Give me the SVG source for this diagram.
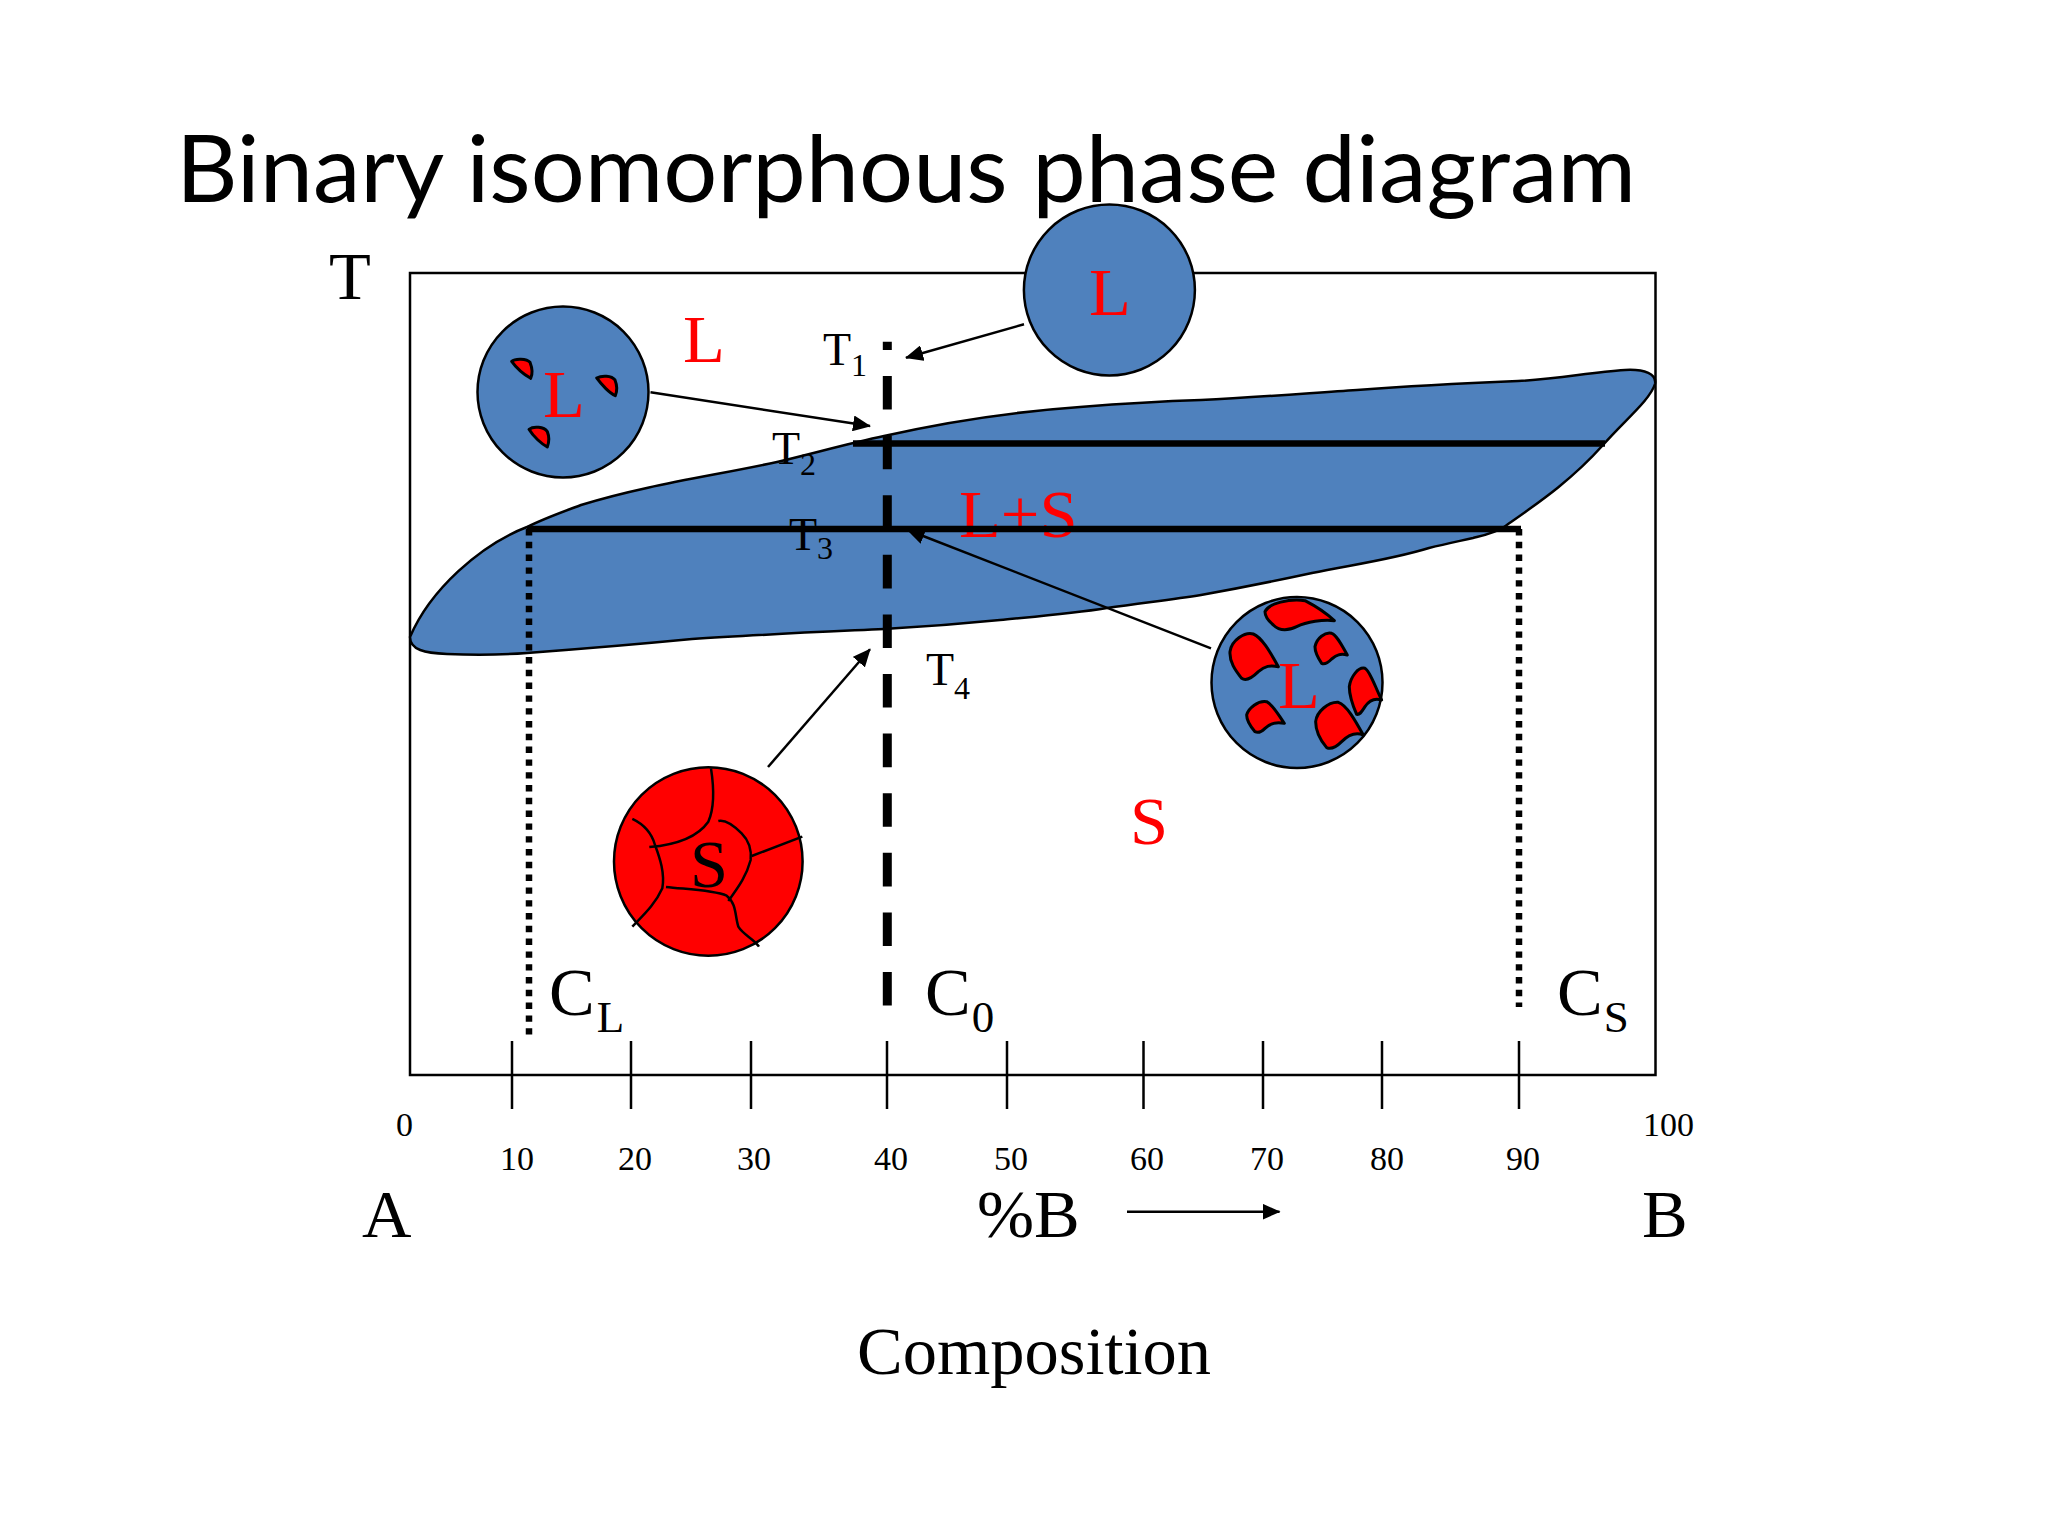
<svg xmlns="http://www.w3.org/2000/svg" width="2048" height="1536" viewBox="0 0 2048 1536">
<defs>
<marker id="arrow" markerUnits="userSpaceOnUse" markerWidth="18" markerHeight="16" refX="17" refY="8" orient="auto"><path d="M0 0L18 8L0 16Z" fill="#000"/></marker>
<style>
text{font-family:"Liberation Serif","Times New Roman",serif;fill:#000}
.big{font-size:68.500px}
.mid{font-size:46px}
.low{font-size:45px}
.sub{font-size:32px}
.tick{font-size:34px}
.red{fill:#f00}
.blue{fill:#4f81bd;stroke:#000;stroke-width:2.5}
.drop{fill:#f00;stroke:#000;stroke-width:9;stroke-linejoin:round}
.grain{fill:none;stroke:#000;stroke-width:7.500}
.axis{fill:none;stroke:#000;stroke-width:2.5}
.arr{stroke:#000;stroke-width:2.5;fill:none;marker-end:url(#arrow)}
.thick{stroke:#000;stroke-width:6.5}
.dot{stroke:#000;stroke-width:6.5;stroke-dasharray:6.4 6.4}
</style>
</defs>
<rect width="2048" height="1536" fill="#fff"/>
<text id="title" x="176" y="202" font-size="93" textLength="1460" lengthAdjust="spacingAndGlyphs" style="font-family:Lato,'Open Sans',sans-serif">Binary isomorphous phase diagram</text>
<g id="frame">
<path class="axis" d="M410 1075V273H1655.500V1075Z"/>
<path class="axis" d="M512 1041V1109M631 1041V1109M751 1041V1109M887 1041V1109M1007 1041V1109M1143.500 1041V1109M1263 1041V1109M1382 1041V1109M1519 1041V1109"/>
</g>
<g id="two-phase-region">
<path class="blue" d="M410 637C430 590 480 545 527 527C545 518 565 511 581 505C646 485 712 476 777 462C815 453 850 443 884 436C950 421 1010 412 1080 407C1130 403 1170 401 1201 400C1260 397 1310 393 1357 390C1410 386 1470 383 1518 381C1560 379 1590 372 1625 370C1645 369 1657 374 1655 384C1650 400 1625 420 1603 445C1570 482 1535 505 1504 527C1495 533 1485 535 1473 538C1455 542 1445 544 1429 548C1390 560 1350 565 1312 573C1275 581 1240 588 1201 595C1170 600 1140 603 1107 608C1070 614 1030 617 1000 620C960 624 920 627 884 629C820 632 750 635 692 639C640 644 580 649 527 653C500 655 470 655 447 654C425 653 410 650 410 637Z"/>
<text class="big red" x="959" y="537">L+S</text>
</g>
<g id="connectors">
<line class="thick" x1="853" y1="443.500" x2="1605" y2="443.500"/>
<line class="thick" x1="527" y1="529" x2="1521" y2="529"/>
<line x1="887.300" y1="341.700" x2="887.300" y2="1006.700" stroke="#000" stroke-width="9" stroke-dasharray="33.600 26" stroke-dashoffset="25.300"/>
<line class="dot" x1="529" y1="529" x2="529" y2="1035"/>
<line class="dot" x1="1519" y1="529" x2="1519" y2="1007"/>
<line class="arr" x1="1024" y1="324.300" x2="906" y2="357.700"/>
<line class="arr" x1="650.500" y1="392.300" x2="870" y2="426"/>
<line class="arr" x1="1211" y1="648.300" x2="907.700" y2="530"/>
<line class="arr" x1="768" y1="767" x2="870" y2="649.300"/>
<line class="arr" x1="1127" y1="1211.700" x2="1279.500" y2="1211.700"/>
</g>
<g id="circle-liquid">
<circle class="blue" cx="1109.400" cy="290" r="85.500"/>
<text class="big red" x="1089" y="315">L</text>
</g>
<g id="circle-few-solid">
<circle class="blue" cx="563" cy="392" r="85.500"/>
<g transform="translate(470 300) scale(.3333)">
<path class="drop" d="M125 184C135 175 170 175 180 187C187 205 187 225 182 235C165 225 140 205 125 184Z"/>
<path class="drop" d="M380 234C395 226 425 226 435 240C441 255 441 275 436 287C420 280 395 255 380 234Z"/>
<path class="drop" d="M177 388C190 378 222 380 232 395C238 410 238 425 232 441C215 432 190 410 177 388Z"/>
</g>
<text class="big red" x="543" y="417">L</text>
</g>
<g id="circle-more-solid">
<circle class="blue" cx="1297" cy="682.500" r="85.500"/>
<g transform="translate(1190 580) scale(.3333)">
<path class="drop" d="M225 95C235 70 300 55 345 62C380 80 415 105 433 122C400 118 350 125 320 140C295 152 270 155 250 135C235 122 225 110 225 95Z"/>
<path class="drop" d="M120 215C125 180 165 155 190 162C215 172 240 215 265 260C240 255 225 258 205 275C190 290 170 305 155 295C135 270 118 245 120 215Z"/>
<path class="drop" d="M375 200C380 175 405 155 425 160C440 165 455 195 472 225C450 220 440 225 425 237C415 247 405 255 395 250C385 235 375 220 375 200Z"/>
<path class="drop" d="M478 320C482 290 505 260 525 265C540 272 555 320 575 360C550 352 535 365 525 380C515 395 510 405 500 403C490 380 478 350 478 320Z"/>
<path class="drop" d="M170 405C175 385 205 360 230 365C250 375 265 405 283 430C260 425 240 430 225 445C215 455 205 460 195 455C182 440 170 425 170 405Z"/>
<path class="drop" d="M377 425C380 395 415 365 445 367C470 375 495 420 520 465C495 455 475 465 455 485C440 500 425 510 410 503C395 485 377 455 377 425Z"/>
</g>
<text class="big red" x="1278" y="708">L</text>
</g>
<g id="circle-solid">
<circle cx="708.300" cy="861.500" r="94.300" fill="#f00" stroke="#000" stroke-width="2.500"/>
<g transform="translate(600 750) scale(.3333)">
<path class="grain" d="M333 55C340 100 345 170 325 215C290 265 220 285 148 291"/>
<path class="grain" d="M97 207C135 225 155 250 165 285C180 325 195 370 187 415C165 465 125 500 97 530"/>
<path class="grain" d="M198 411C260 418 340 420 380 437C410 460 405 500 415 530C430 555 460 565 477 590"/>
<path class="grain" d="M355 213C375 208 400 225 425 250C445 270 455 300 452 330C440 375 420 405 385 453"/>
<path class="grain" d="M455 318L607 260"/>
</g>
<text class="big" x="690" y="887">S</text>
</g>
<g id="labels">
<text class="big" x="329" y="299">T</text>
<text class="big red" x="683" y="362">L</text>
<text class="big red" x="1130" y="844">S</text>
<text class="mid" x="823" y="365">T<tspan class="sub" dy="10.500">1</tspan></text>
<text class="mid" x="772" y="464">T<tspan class="sub" dy="11">2</tspan></text>
<text class="mid" x="789" y="550">T<tspan class="sub" dy="9">3</tspan></text>
<text class="mid" x="926" y="685">T<tspan class="sub" dy="14">4</tspan></text>
<text class="big" x="549" y="1015">C<tspan class="low" dx="2" dy="17">L</tspan></text>
<text class="big" x="925" y="1015">C<tspan class="low" dx="1" dy="17">0</tspan></text>
<text class="big" x="1557" y="1015">C<tspan class="low" dx="1" dy="17">S</tspan></text>
<text class="tick" x="396" y="1136">0</text>
<text class="tick" x="500" y="1170">10</text>
<text class="tick" x="618" y="1170">20</text>
<text class="tick" x="737" y="1170">30</text>
<text class="tick" x="874" y="1170">40</text>
<text class="tick" x="994" y="1170">50</text>
<text class="tick" x="1130" y="1170">60</text>
<text class="tick" x="1250" y="1170">70</text>
<text class="tick" x="1370" y="1170">80</text>
<text class="tick" x="1506" y="1170">90</text>
<text class="tick" x="1643" y="1136">100</text>
<text class="big" x="362" y="1237">A</text>
<text class="big" x="977" y="1237">%B</text>
<text class="big" x="1642" y="1237">B</text>
<text class="big" x="857" y="1374">Composition</text>
</g>
</svg>
